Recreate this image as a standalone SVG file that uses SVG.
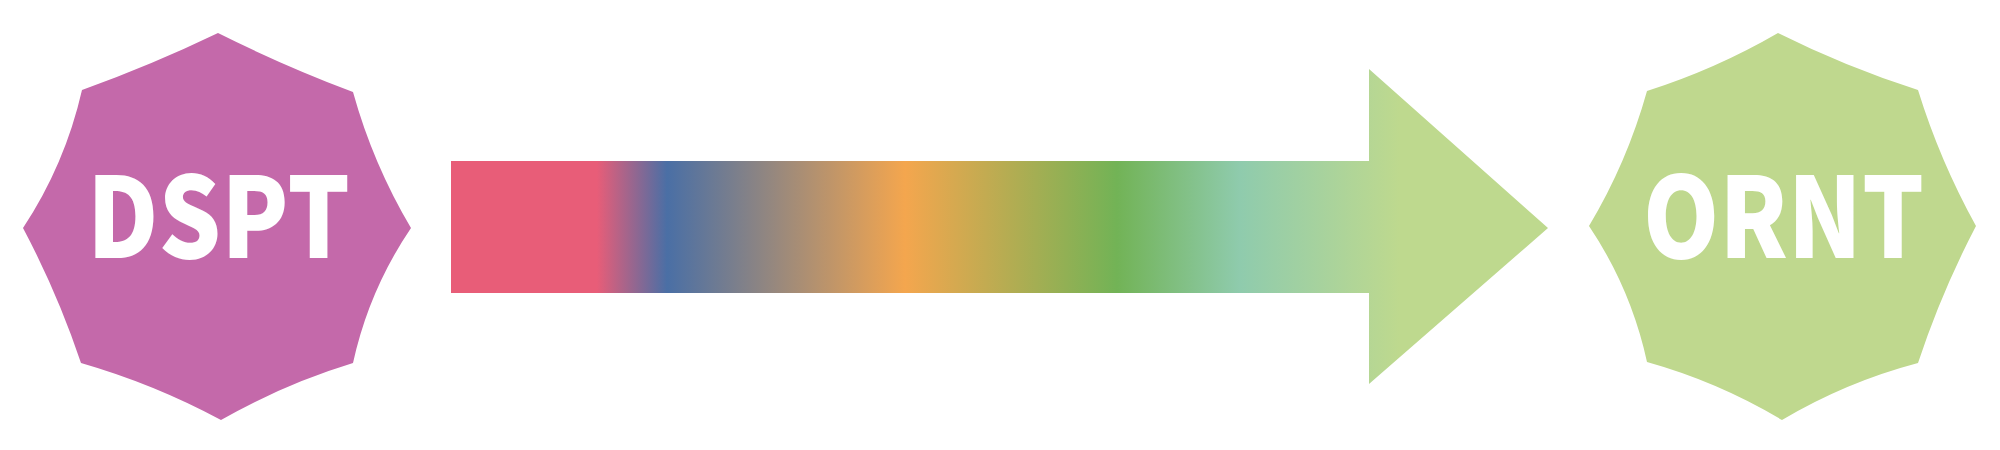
<svg xmlns="http://www.w3.org/2000/svg" width="2000" height="450" viewBox="0 0 2000 450">
  <defs>
    <linearGradient id="flow" gradientUnits="userSpaceOnUse" x1="451" y1="0" x2="1548" y2="0">
      <stop offset="0" stop-color="#E85D78"/>
      <stop offset="0.133" stop-color="#E85D78"/>
      <stop offset="0.197" stop-color="#4A6FA5"/>
      <stop offset="0.414" stop-color="#F4A64E"/>
      <stop offset="0.607" stop-color="#72B356"/>
      <stop offset="0.719" stop-color="#8FCBAD"/>
      <stop offset="0.865" stop-color="#BED98E"/>
      <stop offset="1" stop-color="#BED98E"/>
    </linearGradient>
    <style>
      .label { font-family: "Noto Sans CJK JP", "Noto Sans", sans-serif; font-weight: 800; font-size: 112px; fill: #FFFFFF; }
    </style>
  </defs>

  <g id="node-dspt">
    <path fill="#C469AA" d="M218,33 Q284,66 353,92 Q373,164 411,228 Q369,290 353,363 Q284,384 221,420 Q154,384 81,363 Q57.5,293 23,228 Q65,164.5 82,90 Q151.5,65 218,33 Z"/>
    <text class="label" x="87" y="258" textLength="263" lengthAdjust="spacingAndGlyphs">DSPT</text>
  </g>

  <g id="connectors">
    <path id="arrow" fill="url(#flow)" d="M451,161 L1369,161 L1369,69 L1548,228 L1369,384 L1369,293 L451,293 Z"/>
  </g>

  <g id="node-ornt">
    <path fill="#BFD88E" d="M1778,33 Q1846,67 1918,90 Q1940,161 1976,226 Q1941.5,292 1918,363 Q1846,382 1782,420 Q1718.5,382 1647,362 Q1631,288.5 1589,226 Q1627,162.5 1647,91 Q1716,69 1778,33 Z"/>
    <text class="label" x="1643" y="258" textLength="281" lengthAdjust="spacingAndGlyphs">ORNT</text>
  </g>
</svg>
